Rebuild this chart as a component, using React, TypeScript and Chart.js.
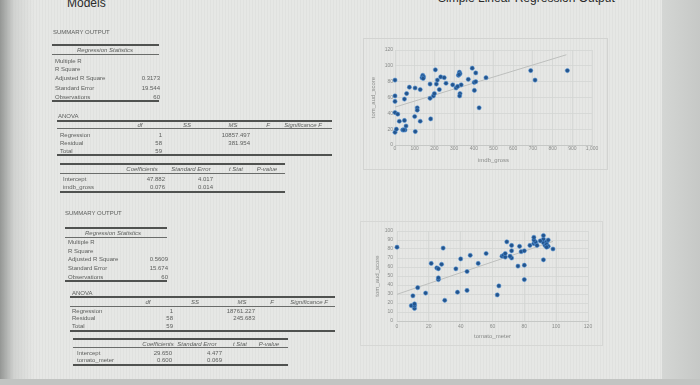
import React, { useEffect, useRef } from "react";
import { Chart, registerables } from "chart.js";
Chart.register(...registerables);

// ---------- data ----------
const imdbGross = [0, 0, 0, 0, 14, 0, 7, 22, 39, 51, 48, 56, 48, 59, 73, 102, 128, 100, 113, 113, 103, 128, 137, 141, 145, 143, 181, 178, 178, 195, 200, 205, 210, 215, 225, 232, 250, 259, 293, 310, 322, 327, 330, 325, 318, 330, 328, 336, 372, 392, 410, 402, 410, 403, 427, 462, 689, 711, 875, 44];
const audScoreA = [82, 62, 55, 41, 39, 16, 20, 30, 19, 19, 31, 24, 58, 65, 73, 72, 70, 36, 47, 44, 17, 30, 85, 88, 86, 84, 33, 59, 77, 62, 65, 95, 77, 82, 70, 86, 85, 78, 76, 72, 88, 92, 90, 89, 74, 65, 62, 76, 83, 97, 91, 79, 80, 69, 47, 85, 94, 82, 94, 19];

const tomatoMeter = [0, 9, 10, 11, 11, 11, 13, 18, 21.5, 25, 26, 26, 26, 28, 29, 30, 37, 38, 40, 44, 44, 46, 51, 56, 63, 64, 66, 67, 68, 69, 72, 72, 72, 71, 76, 77, 78, 80, 80, 80, 83.5, 86, 87, 87, 86, 86, 92, 92, 92, 92, 93, 94, 95, 94, 95, 98, 88, 90, 68, 94];
const audScoreB = [82, 17, 28, 14, 17, 19, 37, 31, 64, 59, 58, 46, 48, 63, 81, 23, 58, 32, 69, 55, 34, 73, 64, 75, 29, 39, 72, 73, 71, 88, 84, 78, 70, 72, 61, 83, 77, 78, 46, 62, 84, 86, 87, 88, 90, 93, 87, 91, 95, 68, 84, 88, 90, 85, 83, 80, 84, 89, 75, 82];

const regStatLabels = ["Multiple R", "R Square", "Adjusted R Square", "Standard Error", "Observations"];
const regStatValuesA = ["", "", "0.3173", "19.544", "60"];
const regStatValuesB = ["", "", "0.5609", "15.674", "60"];

const anovaHeaders = ["df", "SS", "MS", "F", "Significance F"];
const anovaRowLabels = ["Regression", "Residual", "Total"];
const anovaDfA = ["1", "58", "59"];
const anovaMsA = ["10857.497", "381.954", ""];
const anovaDfB = ["1", "58", "59"];
const anovaMsB = ["18761.227", "245.683", ""];

const coefHeaders = ["Coefficients", "Standard Error", "t Stat", "P-value"];
const coefLabelsA = ["Intercept", "imdb_gross"];
const coefValuesA = ["47.882", "0.076"];
const coefSeA = ["4.017", "0.014"];
const coefLabelsB = ["Intercept", "tomato_meter"];
const coefValuesB = ["29.650", "0.600"];
const coefSeB = ["4.477", "0.069"];

const trendXA = [0, 870];
const trendXB = [0, 98];

// ---------- helpers ----------
const FONT = "'Liberation Sans', Arial, sans-serif";

type TP = { x: number; y: number; t: string; a?: "l" | "r" | "c"; s?: number; i?: boolean; c?: string };
function T({ x, y, t, a = "l", s = 6, i = false, c = "#5c5e5c" }: TP) {
  const tx = a === "l" ? "0" : a === "r" ? "-100%" : "-50%";
  return (
    <div
      style={{
        position: "absolute",
        left: x,
        top: y,
        transform: `translate(${tx}, -50%)`,
        fontSize: s,
        lineHeight: 1,
        fontStyle: i ? "italic" : "normal",
        color: c,
        whiteSpace: "nowrap",
        fontFamily: FONT,
      }}
    >
      {t}
    </div>
  );
}
function L({ x1, x2, y, w = 1, c = "#6a6c6a" }: { x1: number; x2: number; y: number; w?: number; c?: string }) {
  return <div style={{ position: "absolute", left: x1, top: y, width: x2 - x1, height: w, background: c }} />;
}

type BlockGeo = {
  sum: [number, number];
  rs: { x1: number; x2: number; top: number; hy: number; hx: number; r2: number; rows: number[]; lx: number; vr: number; bot: number };
  an: { lx: number; ly: number; x1: number; x2: number; top: number; hy: number; hc: number[]; r2: number; rows: number[]; rl: number; dfr: number; msr: number; bot: number };
  co: { x1: number; x2: number; top: number; hy: number; hc: number[]; r2: number; rows: number[]; lx: number; cr: number; ser: number; bot: number };
};

function Block({ g, rsv, df, ms, cl, cv, cs }: { g: BlockGeo; rsv: string[]; df: string[]; ms: string[]; cl: string[]; cv: string[]; cs: string[] }) {
  const { rs, an, co } = g;
  return (
    <>
      <T x={g.sum[0]} y={g.sum[1]} t="SUMMARY OUTPUT" />
      <L x1={rs.x1} x2={rs.x2} y={rs.top} w={1.5} c="#505250" />
      <T x={rs.hx} y={rs.hy} t="Regression Statistics" a="c" i />
      <L x1={rs.x1} x2={rs.x2} y={rs.r2} />
      {regStatLabels.map((l, k) => (
        <T key={"l" + k} x={rs.lx} y={rs.rows[k]} t={l} />
      ))}
      {rsv.map((v, k) => (v ? <T key={"v" + k} x={rs.vr} y={rs.rows[k]} t={v} a="r" /> : null))}
      <L x1={rs.x1} x2={rs.x2} y={rs.bot} w={1.5} c="#505250" />

      <T x={an.lx} y={an.ly} t="ANOVA" />
      <L x1={an.x1} x2={an.x2} y={an.top} w={1.5} c="#505250" />
      {anovaHeaders.map((h, k) => (
        <T key={"h" + k} x={an.hc[k]} y={an.hy} t={h} a="c" i />
      ))}
      <L x1={an.x1} x2={an.x2} y={an.r2} />
      {anovaRowLabels.map((l, k) => (
        <T key={"a" + k} x={an.rl} y={an.rows[k]} t={l} />
      ))}
      {df.map((v, k) => (
        <T key={"d" + k} x={an.dfr} y={an.rows[k]} t={v} a="r" />
      ))}
      {ms.map((v, k) => (v ? <T key={"m" + k} x={an.msr} y={an.rows[k]} t={v} a="r" /> : null))}
      <L x1={an.x1} x2={an.x2} y={an.bot} w={1.5} c="#505250" />

      <L x1={co.x1} x2={co.x2} y={co.top} w={1.5} c="#505250" />
      {coefHeaders.map((h, k) => (
        <T key={"ch" + k} x={co.hc[k]} y={co.hy} t={h} a="c" i />
      ))}
      <L x1={co.x1} x2={co.x2} y={co.r2} />
      {cl.map((l, k) => (
        <T key={"cl" + k} x={co.lx} y={co.rows[k]} t={l} />
      ))}
      {cv.map((v, k) => (
        <T key={"cv" + k} x={co.cr} y={co.rows[k]} t={v} a="r" />
      ))}
      {cs.map((v, k) => (
        <T key={"cs" + k} x={co.ser} y={co.rows[k]} t={v} a="r" />
      ))}
      <L x1={co.x1} x2={co.x2} y={co.bot} w={1.5} c="#505250" />
    </>
  );
}

const geoA: BlockGeo = {
  sum: [53, 32],
  rs: { x1: 52, x2: 159, top: 44, hy: 50, hx: 105, r2: 54, rows: [61, 69, 78, 88, 97], lx: 55, vr: 160, bot: 100 },
  an: { lx: 58, ly: 116, x1: 57, x2: 332, top: 120, hy: 125, hc: [140, 187, 233, 268, 303], r2: 128, rows: [135, 143, 151], rl: 60, dfr: 162, msr: 250, bot: 154 },
  co: { x1: 60, x2: 285, top: 163, hy: 169, hc: [142, 191, 236, 267], r2: 173, rows: [179, 187], lx: 63, cr: 165, ser: 213, bot: 191 },
};
const geoB: BlockGeo = {
  sum: [65, 213],
  rs: { x1: 65, x2: 167, top: 227, hy: 233, hx: 113, r2: 237, rows: [242, 251, 259, 268, 277], lx: 68, vr: 168, bot: 280 },
  an: { lx: 72, ly: 293, x1: 70, x2: 335, top: 296, hy: 302, hc: [148, 195, 242, 272, 309], r2: 306, rows: [311, 318, 326], rl: 72, dfr: 173, msr: 255, bot: 330 },
  co: { x1: 73, x2: 288, top: 338, hy: 344, hc: [158, 197, 240, 269], r2: 347, rows: [353, 360], lx: 77, cr: 172, ser: 222, bot: 364 },
};

type SP = {
  xs: number[]; ys: number[]; trendX: number[]; intercept: number; slope: number;
  xMax: number; xStep: number; yMax: number; yStep: number; xTitle: string; yTitle: string;
  w: number; h: number; padTop: number; padRight: number; yAxisW: number; xAxisH: number;
  yTitlePad: number; xTitlePad: number; xTickPad: number; yTickPad: number;
};

function Scatter(p: SP) {
  const ref = useRef<HTMLCanvasElement>(null);
  useEffect(() => {
    if (!ref.current) return;
    const pts = p.xs.map((x, i) => ({ x, y: p.ys[i] }));
    const trend = p.trendX.map((x) => ({ x, y: p.intercept + p.slope * x }));
    const tickFont = { size: 5, family: FONT };
    const chart = new Chart(ref.current, {
      type: "scatter",
      data: {
        datasets: [
          {
            type: "line",
            data: trend,
            borderColor: "#bdbfbd",
            borderWidth: 1,
            pointRadius: 0,
            fill: false,
            showLine: true,
            order: 2,
          } as any,
          {
            data: pts,
            backgroundColor: "#23548c",
            borderColor: "rgba(80,145,215,0.55)",
            borderWidth: 1,
            pointRadius: 2.1,
            clip: false,
            order: 1,
          } as any,
        ],
      },
      options: {
        animation: false,
        responsive: false,
        devicePixelRatio: 1,
        plugins: { legend: { display: false }, tooltip: { enabled: false } },
        layout: { padding: { top: p.padTop, right: p.padRight, left: 0, bottom: 0 } },
        scales: {
          x: {
            type: "linear",
            min: 0,
            max: p.xMax,
            ticks: { stepSize: p.xStep, font: tickFont, color: "#8a8c8a", padding: p.xTickPad, maxRotation: 0, autoSkip: false },
            grid: { color: "#d3d5d3", lineWidth: 0.8, drawTicks: false },
            border: { display: true, color: "#c6c8c6" },
            title: { display: true, text: p.xTitle, font: { size: 6, family: FONT }, color: "#8a8c8a", padding: { top: 0, bottom: p.xTitlePad } },
            afterFit: (s: any) => {
              s.height = p.xAxisH;
            },
          },
          y: {
            type: "linear",
            min: 0,
            max: p.yMax,
            ticks: { stepSize: p.yStep, font: tickFont, color: "#8a8c8a", padding: p.yTickPad, autoSkip: false },
            grid: { color: "#d3d5d3", lineWidth: 0.8, drawTicks: false },
            border: { display: false },
            title: { display: true, text: p.yTitle, font: { size: 6, family: FONT }, color: "#8a8c8a", padding: { top: p.yTitlePad, bottom: 0 } },
            afterFit: (s: any) => {
              s.width = p.yAxisW;
            },
          },
        },
      } as any,
    });
    return () => chart.destroy();
  }, []);
  return <canvas ref={ref} width={p.w} height={p.h} style={{ display: "block", width: p.w, height: p.h }} />;
}

export default function App() {
  const slopeA = parseFloat(coefValuesA[1]);
  const intA = parseFloat(coefValuesA[0]);
  const slopeB = parseFloat(coefValuesB[1]);
  const intB = parseFloat(coefValuesB[0]);
  return (
    <div
      style={{
        position: "fixed",
        left: 0,
        top: 0,
        width: 700,
        height: 385,
        overflow: "hidden",
        backgroundColor: "#e6e7e5",
        backgroundImage:
          "linear-gradient(90deg, rgba(140,142,140,0.9) 0px, rgba(195,197,195,0.6) 14px, rgba(230,231,229,0) 34px), repeating-linear-gradient(90deg, rgba(0,0,0,0.028) 0px, rgba(0,0,0,0.028) 1px, rgba(0,0,0,0) 1px, rgba(0,0,0,0) 3px)",
        fontFamily: FONT,
      }}
    >
      {/* right bezel */}
      <div style={{ position: "absolute", left: 662, top: 0, width: 38, height: 385, background: "linear-gradient(90deg, #d4d6d4, #c6c8c6)" }} />
      {/* bottom edge */}
      <div style={{ position: "absolute", left: 0, top: 379, width: 700, height: 6, background: "#c2c4c2" }} />

      <div style={{ position: "absolute", left: 67, top: -3, fontSize: 12, lineHeight: "12px", color: "#2a2a2a", fontFamily: FONT }}>Models</div>
      <div style={{ position: "absolute", left: 438, top: -8, fontSize: 12, lineHeight: "12px", color: "#2a2a2a", fontFamily: FONT }}>
        Simple Linear Regression Output
      </div>

      <div style={{ position: "absolute", left: 0, top: 0, width: 700, height: 385, filter: "blur(0.35px)" }}>
        <Block g={geoA} rsv={regStatValuesA} df={anovaDfA} ms={anovaMsA} cl={coefLabelsA} cv={coefValuesA} cs={coefSeA} />
        <Block g={geoB} rsv={regStatValuesB} df={anovaDfB} ms={anovaMsB} cl={coefLabelsB} cv={coefValuesB} cs={coefSeB} />
      </div>

      {/* chart boxes */}
      <div style={{ position: "absolute", left: 363, top: 38, width: 245, height: 132, border: "1px solid #d2d3d1", boxSizing: "border-box" }} />
      <div style={{ position: "absolute", left: 360, top: 221, width: 243, height: 125, border: "1px solid #d6d7d5", boxSizing: "border-box" }} />

      <div style={{ position: "absolute", left: 363, top: 40 }}>
        <Scatter
          xs={imdbGross} ys={audScoreA} trendX={trendXA} intercept={intA} slope={slopeA}
          xMax={1000} xStep={100} yMax={120} yStep={20} xTitle="imdb_gross" yTitle="tom_aud_score"
          w={245} h={130} padTop={10} padRight={16} yAxisW={32} xAxisH={25}
          yTitlePad={7} xTitlePad={6} xTickPad={1} yTickPad={2}
        />
      </div>
      <div style={{ position: "absolute", left: 365, top: 220 }}>
        <Scatter
          xs={tomatoMeter} ys={audScoreB} trendX={trendXB} intercept={intB} slope={slopeB}
          xMax={120} xStep={20} yMax={100} yStep={10} xTitle="tomato_meter" yTitle="tom_aud_score"
          w={243} h={125} padTop={11} padRight={20} yAxisW={32} xAxisH={24}
          yTitlePad={9} xTitlePad={5} xTickPad={3} yTickPad={4}
        />
      </div>
    </div>
  );
}
